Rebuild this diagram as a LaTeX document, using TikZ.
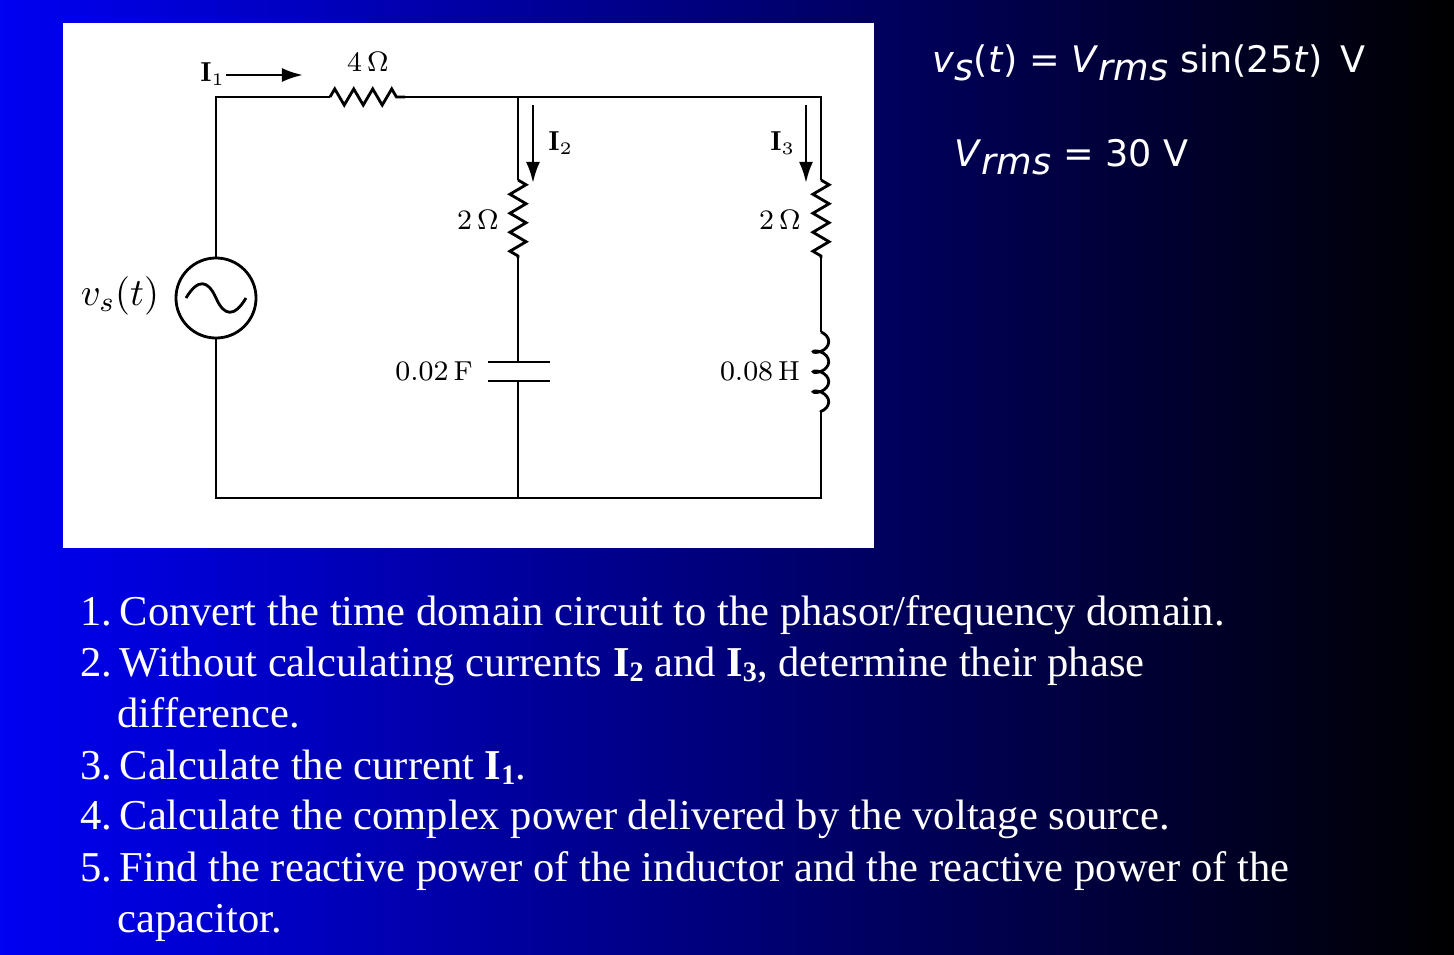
\documentclass[tikz,border=0pt]{standalone}
\usepackage{fontspec}
\newfontfamily\serif{Liberation Serif}
\newfontfamily\dsans{DejaVu Sans}
\usetikzlibrary{decorations.pathmorphing,arrows.meta}
\begin{document}
\begin{tikzpicture}[x=0.01cm,y=-0.01cm,
  wire/.style={line width=0.8pt},
  res/.style={wire,decorate,decoration={zigzag,segment length=5.4pt,amplitude=2.3pt}},
  ind/.style={wire,decorate,decoration={coil,aspect=0.6,segment length=5.7pt,amplitude=2.2pt}},
  lbl/.style={font=\fontsize{7.8}{9}\selectfont},
  arr/.style={wire,-{Latex[length=6pt,width=4pt]}},
  item/.style={anchor=base west,inner sep=0,text=white,font=\serif\fontsize{12.1}{14}\selectfont},
  eq/.style={anchor=base west,inner sep=0,text=white,font=\dsans\fontsize{10.4}{13}\selectfont}]
\shade[left color=blue!95!black,right color=black] (0,0) rectangle (1454,954);
\useasboundingbox (0,0) rectangle (1454,954);
\fill[white] (63,23) rectangle (874,548);
\coordinate (tl) at (216,97); \coordinate (bl) at (216,498);
\coordinate (tm) at (518,97); \coordinate (bm) at (518,498);
\coordinate (tr) at (821,97); \coordinate (br) at (821,498);
\coordinate (r1a) at (330,97); \coordinate (r1b) at (405,97);
\coordinate (r2a) at (518,180); \coordinate (r2b) at (518,258);
\coordinate (r3a) at (821,180); \coordinate (r3b) at (821,258);
\coordinate (c1) at (518,362); \coordinate (c2) at (518,381);
\coordinate (l1) at (821,332); \coordinate (l2) at (821,412);
\node[circle,draw,wire,minimum size=0.8cm,inner sep=0] (src) at (216,298) {};
\draw[wire] (src.north) -- (tl) -- (r1a);
\draw[res] (r1a) -- (r1b);
\draw[wire] (r1b) -- (tr) -- (r3a);
\draw[res] (r3a) -- (r3b);
\draw[wire] (r3b) -- (l1);
\draw[ind] (l1) -- (l2);
\draw[wire] (l2) -- (br) -- (bl) -- (src.south);
\draw[wire] (tm) -- (r2a); \draw[res] (r2a) -- (r2b);
\draw[wire] (r2b) -- (c1); \draw[wire] (c2) -- (bm);
\draw[wire] (488,362) -- (550,362); \draw[wire] (488,381) -- (550,381);
\draw[wire] (186,298) .. controls (198,278) and (208,280) .. (216,298) .. controls (224,316) and (234,318) .. (246,298);
\node[lbl] (l4) at (368,62) {$4\,\Omega$};
\node[lbl] (l2a) at (478,220) {$2\,\Omega$};
\node[lbl] (l2b) at (780,220) {$2\,\Omega$};
\node[lbl] (lc) at (434,371) {$0.02\,\mathrm{F}$};
\node[lbl] (ll) at (760,371) {$0.08\,\mathrm{H}$};
\node[font=\fontsize{11}{13}\selectfont] (lv) at (120,296) {$v_s(t)$};
\node[lbl] (i1) at (213,74) {$\mathbf{I}_1$};
\node[lbl] (i2) at (561,143) {$\mathbf{I}_2$};
\node[lbl] (i3) at (783,143) {$\mathbf{I}_3$};
\coordinate (a1s) at (226,75); \coordinate (a1e) at (303,75);
\draw[arr] (a1s) -- (a1e);
\coordinate (a2s) at (533,105); \coordinate (a2e) at (533,183);
\draw[arr] (a2s) -- (a2e);
\coordinate (a3s) at (806,105); \coordinate (a3e) at (806,183);
\draw[arr] (a3s) -- (a3e);
\node[eq] (e1) at (932,72) {\textit{v}\raisebox{-0.4ex}{\textit{s}}(\textit{t}) = \textit{V}\raisebox{-0.4ex}{\textit{rms}} sin(25\textit{t}) \,V};
\node[eq] (e2) at (954,166) {\textit{V}\raisebox{-0.4ex}{\textit{rms}} = 30 V};
\node[item] (n1) at (80,625) {1.\,Convert the time domain circuit to the phasor/frequency domain.};
\node[item] (n2) at (80,676) {2.\,Without calculating currents \textbf{I}\raisebox{-0.3ex}{\textbf{\footnotesize 2}} and \textbf{I}\raisebox{-0.3ex}{\textbf{\footnotesize 3}}, determine their phase};
\node[item] (n2b) at (117,727) {difference.};
\node[item] (n3) at (80,779) {3.\,Calculate the current \textbf{I}\raisebox{-0.3ex}{\textbf{\footnotesize 1}}.};
\node[item] (n4) at (80,829) {4.\,Calculate the complex power delivered by the voltage source.};
\node[item] (n5) at (80,881) {5.\,Find the reactive power of the inductor and the reactive power of the};
\node[item] (n5b) at (117,932) {capacitor.};
\end{tikzpicture}
\end{document}
